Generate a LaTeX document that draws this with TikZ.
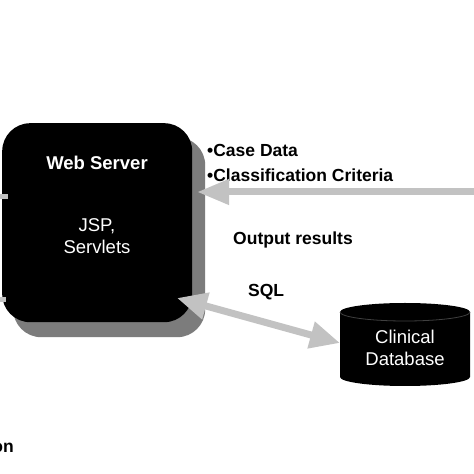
\documentclass[tikz,border=0pt]{standalone}
\usepackage{fontspec}
\setmainfont{Liberation Sans}
\usetikzlibrary{arrows.meta}
\definecolor{arrowgray}{HTML}{C2C2C2}
\definecolor{shadowgray}{HTML}{7C7C7C}
\tikzset{
  x=1pt,y=1pt,
  boxtext/.style={text=white,font=\fontsize{18.5}{22}\selectfont,align=center,inner sep=0pt},
  lbl/.style={text=black,font=\bfseries\fontsize{17.5}{25}\selectfont,align=left,inner sep=0pt},
  fatarrow/.style={draw=arrowgray,line width=7pt,-{Triangle[length=32pt,width=24pt]}},
  fatdouble/.style={draw=arrowgray,line width=7pt,{Triangle[length=30pt,width=26pt]}-{Triangle[length=30pt,width=26pt]}},
}
\begin{document}
\begin{tikzpicture}
\useasboundingbox (0,0) rectangle (474,474);
\fill[white] (0,0) rectangle (474,474);
% shadow and web server box
\node[fill=shadowgray,rounded corners=28pt,minimum width=192pt,minimum height=200pt,inner sep=0pt,anchor=north west] (wsshadow) at (13,337) {};
\node[fill=black,rounded corners=28pt,minimum width=190pt,minimum height=199pt,inner sep=0pt,anchor=north west] (ws) at (2,351) {};
\node[boxtext,font=\bfseries\fontsize{18.5}{22}\selectfont] (wstitle) at (97,311) {Web Server};
\node[boxtext] (wsbody) at (97,238) {JSP,\\Servlets};
% database cylinder
\fill[black] (340,162) -- (340,97) arc (180:360:65 and 9) -- (470,162) arc (0:180:65 and 9) -- cycle;
\draw[draw=black!75,line width=0.8pt] (340,162) arc (180:360:65 and 9);
\node[boxtext,minimum width=130pt,minimum height=82pt] (db) at (405,130) {};
\node[boxtext] (dbtext) at (405,126) {Clinical\\Database};
% labels
\node[lbl,anchor=west] (cases) at (207,311.5) {•Case Data\\•Classification Criteria};
\node[lbl,anchor=west] (output) at (233,234) {Output results};
\node[lbl,anchor=west] (sql) at (248,182) {SQL};
\node[lbl,anchor=east] (cut) at (14,26) {on};
% arrows
\coordinate (rin) at (480,282);
\coordinate (rtip) at (197,282);
\draw[fatarrow] (rin) -- (rtip);
\coordinate (sqla) at (177,176);
\coordinate (sqlb) at (340,131);
\draw[fatdouble] (sqla) -- (sqlb);
% stubs at the left edge
\coordinate (la) at (-20,277);
\coordinate (lb) at (8,277);
\draw[draw=arrowgray,line width=5pt] (la) -- (lb);
\coordinate (lc) at (-20,174);
\coordinate (ld) at (6,174);
\draw[draw=arrowgray,line width=5pt] (lc) -- (ld);
\end{tikzpicture}
\end{document}
